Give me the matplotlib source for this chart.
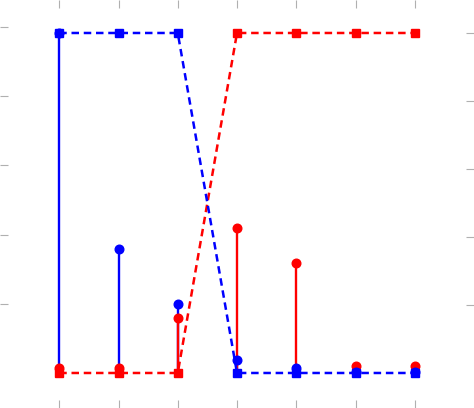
import matplotlib
matplotlib.use("Agg")
import matplotlib.pyplot as plt

# Data
x = [1, 2, 3, 4, 5, 6, 7]
blue_stem = [1.0, 0.365, 0.203, 0.038, 0.016, 0.004, 0.004]
red_stem = [0.016, 0.016, 0.162, 0.426, 0.324, 0.02, 0.02]
blue_dashed = [1, 1, 1, 0, 0, 0, 0]
red_dashed = [0, 0, 0, 1, 1, 1, 1]
right_ticks = [0.2, 0.4, 0.6, 0.8, 1.0]
left_ticks = [0.2, 0.4, 0.6, 0.8, 1.0]

BLUE = "#0000ff"
RED = "#ff0000"
TICK = "#b0b0b0"

fig = plt.figure(figsize=(4.74, 4.08), dpi=100)
ax = fig.add_axes([0, 0, 1, 1])
ax.set_xlim(0, 8)
ax.set_ylim(-0.103, 1.097)

ax2 = ax.twinx()
ax2.set_ylim(-0.1004, 1.078)
ax2.set_yticks(left_ticks)
ax2.patch.set_visible(False)
for s in ax2.spines.values():
    s.set_visible(False)
ax2.tick_params(axis='y', direction='in', length=6, width=0.8, color=TICK,
                labelleft=False, labelright=False, left=True, right=False)

# stems: lines
ax.vlines(x, 0, blue_stem, colors=BLUE, lw=1.7, zorder=2)
ax.vlines(x, 0, red_stem, colors=RED, lw=1.7, zorder=3)
ax.plot(x, red_stem, 'o', color=RED, ms=6.2, zorder=4)
ax.plot(x, blue_stem, 'o', color=BLUE, ms=6.2, zorder=5)

# dashed lines
ax.plot(x, red_dashed, '--', color=RED, lw=1.8, dashes=(3.0, 1.9),
        marker='s', ms=5.6, zorder=6)
ax.plot(x, blue_dashed, '--', color=BLUE, lw=1.8, dashes=(3.0, 1.9),
        marker='s', ms=5.6, zorder=7)

for s in ax.spines.values():
    s.set_visible(False)

ax.set_xticks(x)
ax.set_yticks(right_ticks)
ax.tick_params(axis='both', direction='in', length=6, width=0.8, color=TICK,
               labelbottom=False, labelleft=False, labeltop=False, labelright=False,
               top=True, bottom=True, left=False, right=True)

fig.savefig("out.png", dpi=100)
